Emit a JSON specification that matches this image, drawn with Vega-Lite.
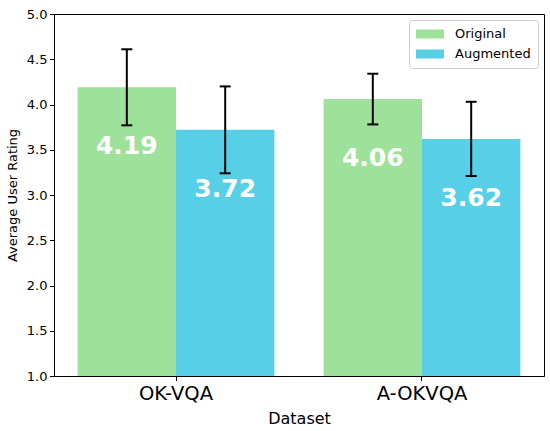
{
  "$schema": "https://vega.github.io/schema/vega-lite/v6.json",
  "autosize": {"type": "none"},
  "padding": {"left": 54, "top": 14, "right": 6, "bottom": 55},
  "width": 490,
  "height": 362,
  "background": "white",
  "config": {
    "font": "DejaVu Sans",
    "view": {"stroke": "black", "strokeWidth": 1},
    "axis": {
      "grid": false,
      "domainColor": "black",
      "tickColor": "black",
      "labelColor": "black",
      "titleColor": "black",
      "titleFontWeight": "normal",
      "tickSize": 4.5
    }
  },
  "data": {
    "values": [
      {"Dataset": "OK-VQA", "Condition": "Original", "Rating": 4.19, "lo": 3.77, "hi": 4.61},
      {"Dataset": "OK-VQA", "Condition": "Augmented", "Rating": 3.72, "lo": 3.24, "hi": 4.2},
      {"Dataset": "A-OKVQA", "Condition": "Original", "Rating": 4.06, "lo": 3.78, "hi": 4.34},
      {"Dataset": "A-OKVQA", "Condition": "Augmented", "Rating": 3.62, "lo": 3.21, "hi": 4.03}
    ]
  },
  "encoding": {
    "x": {
      "field": "Dataset",
      "type": "nominal",
      "sort": ["OK-VQA", "A-OKVQA"],
      "scale": {"paddingInner": 0.2, "paddingOuter": 0.096},
      "axis": {
        "title": "Dataset",
        "labelAngle": 0,
        "labelFontSize": 19.5,
        "labelPadding": 4,
        "titleFontSize": 16,
        "titlePadding": 7
      }
    },
    "xOffset": {
      "field": "Condition",
      "type": "nominal",
      "sort": ["Original", "Augmented"],
      "scale": {"paddingInner": 0, "paddingOuter": 0}
    }
  },
  "layer": [
    {
      "mark": {"type": "bar"},
      "encoding": {
        "y": {
          "field": "Rating",
          "type": "quantitative",
          "scale": {"domain": [1, 5], "zero": false, "nice": false},
          "axis": {
            "title": "Average User Rating",
            "values": [1, 1.5, 2, 2.5, 3, 3.5, 4, 4.5, 5],
            "format": ".1f",
            "labelFontSize": 13,
            "labelPadding": 2.5,
            "titleFontSize": 13,
            "titlePadding": 7
          }
        },
        "y2": {"datum": 1},
        "color": {
          "field": "Condition",
          "type": "nominal",
          "sort": ["Original", "Augmented"],
          "scale": {"domain": ["Original", "Augmented"], "range": ["#9de19a", "#57cfe6"]},
          "legend": {
            "title": null,
            "orient": "top-right",
            "offset": 6,
            "padding": 7,
            "fillColor": "white",
            "strokeColor": "#cccccc",
            "cornerRadius": 3,
            "labelFontSize": 13,
            "labelColor": "black",
            "labelOffset": 25,
            "rowPadding": 6,
            "symbolType": "M-1,-0.64H3V0.64H-1Z",
            "symbolSize": 196,
            "symbolStrokeWidth": 0,
            "symbolOpacity": 1
          }
        }
      }
    },
    {
      "mark": {"type": "rule", "color": "black", "strokeWidth": 2},
      "encoding": {
        "y": {"field": "lo", "type": "quantitative"},
        "y2": {"field": "hi"}
      }
    },
    {
      "mark": {"type": "tick", "color": "black", "thickness": 2, "size": 11, "opacity": 1},
      "encoding": {
        "y": {"field": "lo", "type": "quantitative"}
      }
    },
    {
      "mark": {"type": "tick", "color": "black", "thickness": 2, "size": 11, "opacity": 1},
      "encoding": {
        "y": {"field": "hi", "type": "quantitative"}
      }
    },
    {
      "mark": {
        "type": "text",
        "color": "white",
        "fontSize": 25,
        "fontWeight": "bold",
        "baseline": "middle",
        "align": "center",
        "dy": 59
      },
      "encoding": {
        "y": {"field": "Rating", "type": "quantitative"},
        "text": {"field": "Rating", "type": "quantitative", "format": ".2f"}
      }
    }
  ]
}
